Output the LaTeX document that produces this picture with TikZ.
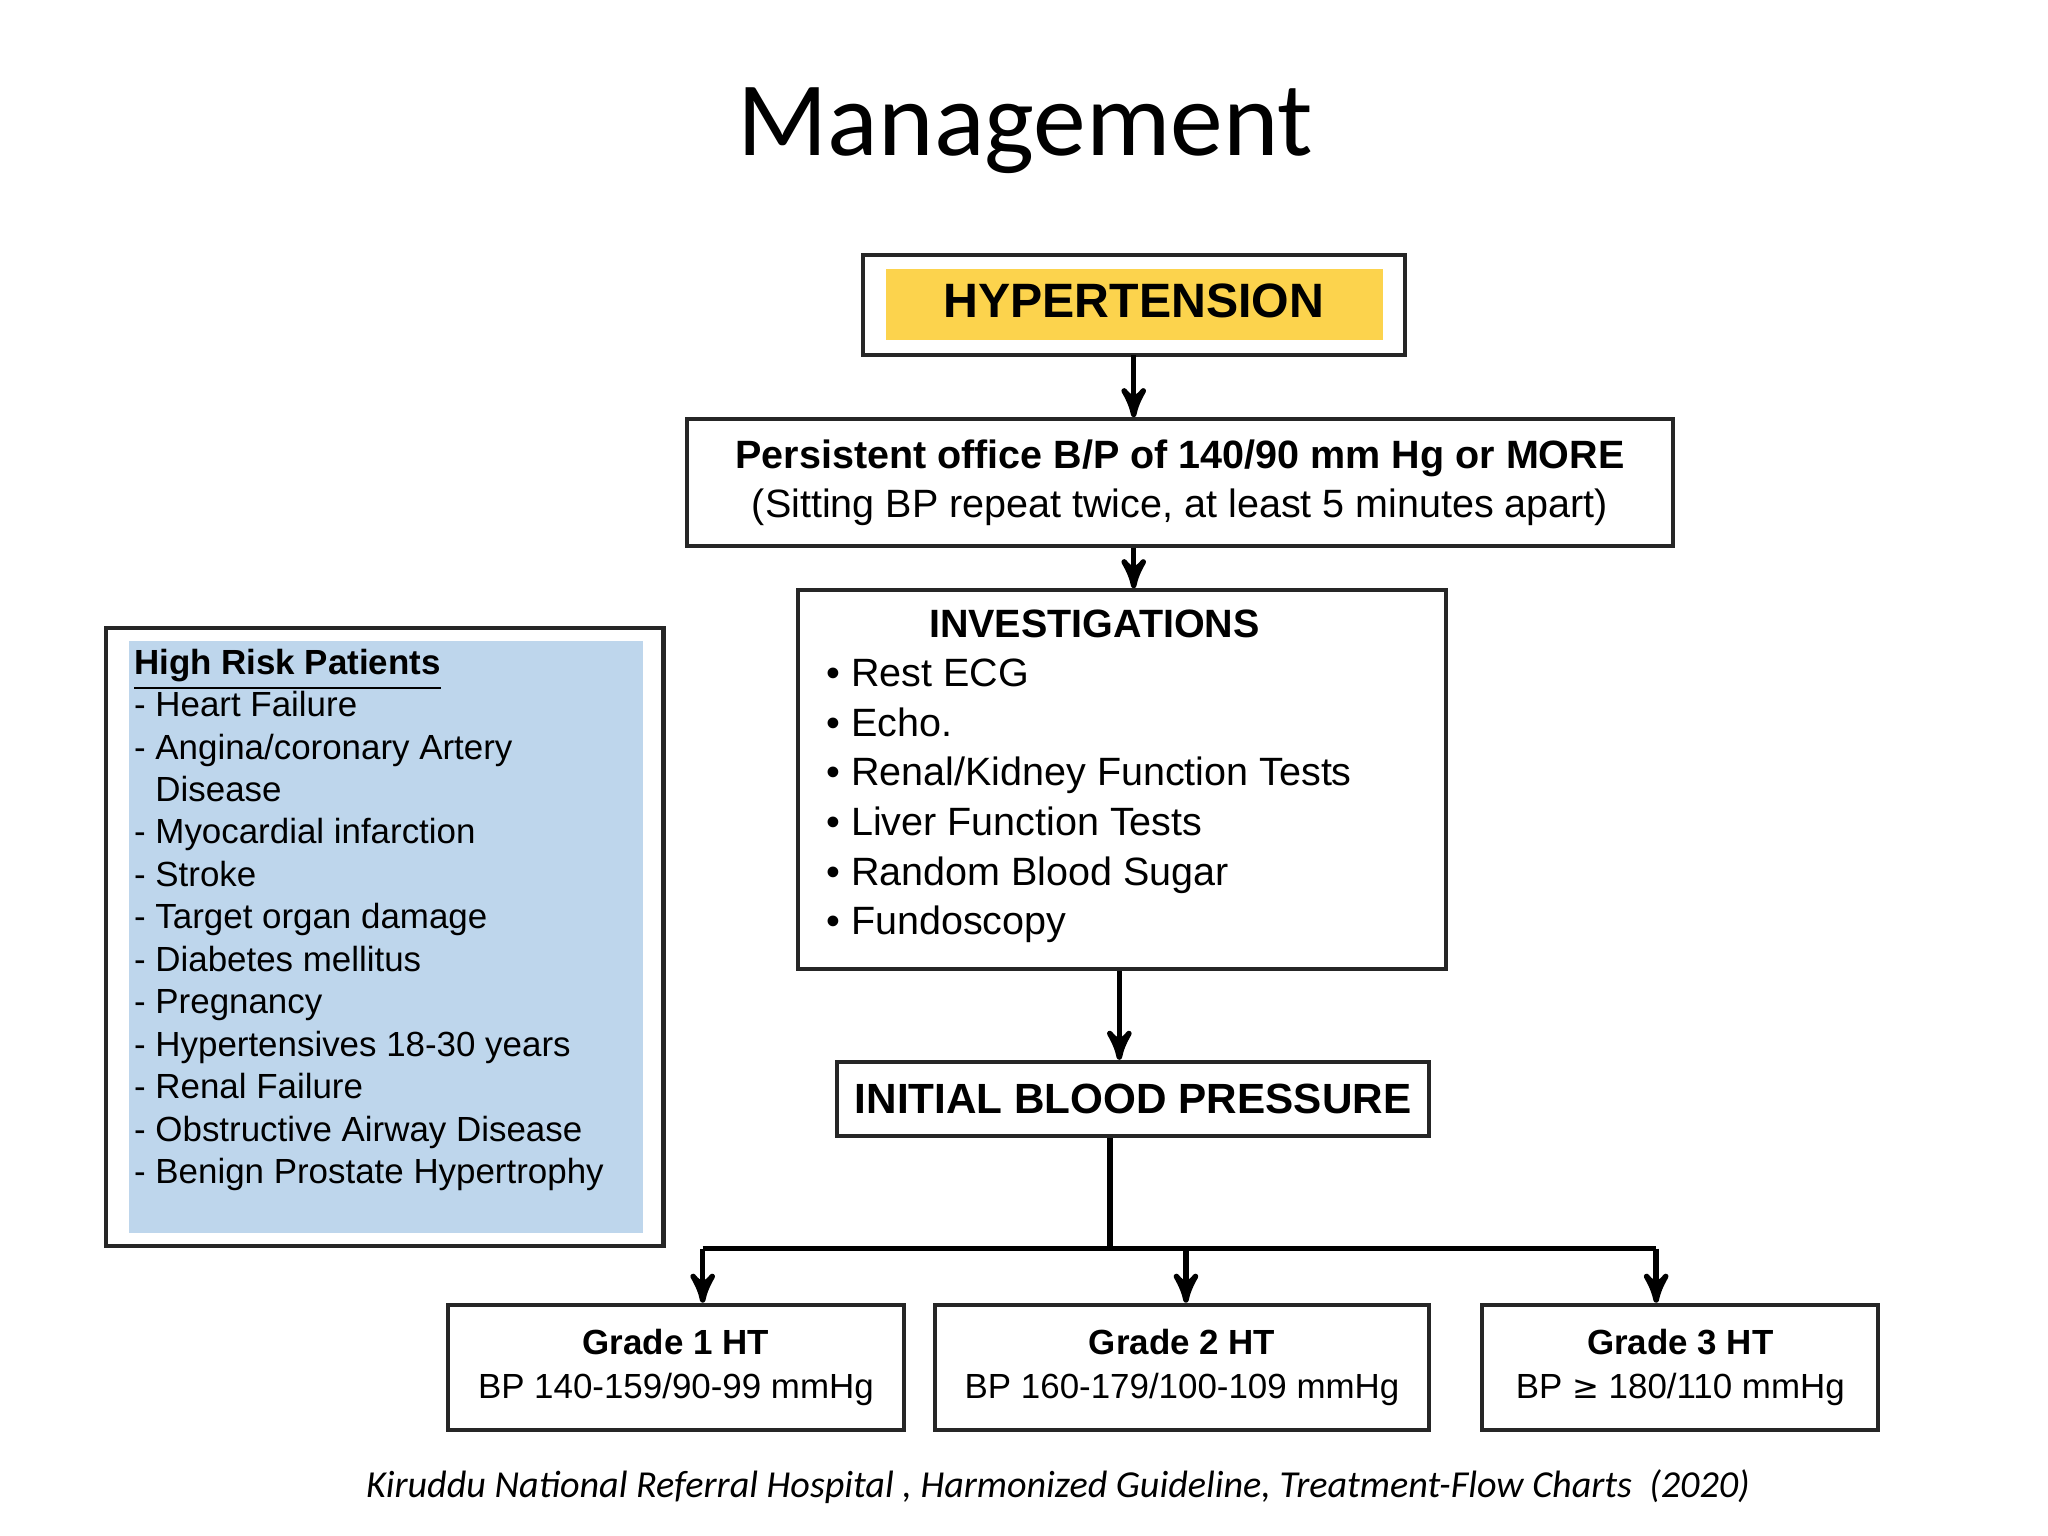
\documentclass[tikz,border=0pt]{standalone}
\usepackage{fontspec}
\setmainfont{Liberation Sans}
\newfontfamily\titlefont{Carlito}
\newfontfamily\symfont{DejaVu Sans}
\usetikzlibrary{arrows,positioning}
\definecolor{hiyellow}{RGB}{252,211,77}
\definecolor{riskblue}{RGB}{190,214,236}
\tikzset{
  box/.style={draw=black!85,line width=0.9pt,inner sep=0pt},
  flow/.style={->,>=stealth',line width=1.2pt},
}
\begin{document}
\begin{tikzpicture}[x=0.01cm,y=-0.01cm]
\useasboundingbox (0,0) rectangle (1568,1176);
\node (title) at (785,100) {\titlefont\fontsize{23}{27}\selectfont Management};
% boxes
\draw[box] (661,195) rectangle (1076,272);
\fill[hiyellow] (678,206) rectangle (1059,260);
\node (hyp) at (868,230) {\bfseries\fontsize{10.5}{12}\selectfont HYPERTENSION};
\coordinate (hypb) at (868,272);
\node[box,minimum width=7.55cm,minimum height=0.97cm,align=center,
      font=\fontsize{8.6}{10.8}\selectfont] (office) at (903.5,369.5)
  {\bfseries Persistent office B/P of 140/90 mm Hg or MORE\\
   (Sitting BP repeat twice, at least 5 minutes apart)};
\node[box,minimum width=4.96cm,minimum height=2.9cm] (invest) at (859,597) {};
\node[anchor=north west,align=left,inner sep=0pt,
      font=\fontsize{8.6}{10.8}\selectfont] (invlist) at (632,466)
  {\hspace*{2.6em}\bfseries INVESTIGATIONS\\
   \textbullet\ Rest ECG\\ \textbullet\ Echo.\\ \textbullet\ Renal/Kidney Function Tests\\
   \textbullet\ Liver Function Tests\\ \textbullet\ Random Blood Sugar\\ \textbullet\ Fundoscopy};
\node[box,minimum width=4.53cm,minimum height=0.57cm] (init) at (867.5,841.5)
  {\bfseries\fontsize{9.2}{11}\selectfont INITIAL BLOOD PRESSURE};
% high risk
\draw[box] (81,481) rectangle (508,954);
\fill[riskblue] (99,491) rectangle (492,944);
\node[anchor=north west,align=left,inner sep=0pt,
      font=\fontsize{7.6}{9.25}\selectfont] (risk) at (102,496)
  {\bfseries\underline{High Risk Patients}\\
   - Heart Failure\\ - Angina/coronary Artery\\ \phantom{- }Disease\\ - Myocardial infarction\\
   - Stroke\\ - Target organ damage\\ - Diabetes mellitus\\ - Pregnancy\\
   - Hypertensives 18-30 years\\ - Renal Failure\\ - Obstructive Airway Disease\\
   - Benign Prostate Hypertrophy};
% grades
\node[box,minimum width=3.49cm,minimum height=0.96cm,align=center,
      font=\fontsize{7.6}{9.4}\selectfont] (g1) at (517.5,1047)
  {\bfseries Grade 1 HT\\ BP 140-159/90-99 mmHg};
\node[box,minimum width=3.78cm,minimum height=0.96cm,align=center,
      font=\fontsize{7.6}{9.4}\selectfont] (g2) at (905,1047)
  {\bfseries Grade 2 HT\\ BP 160-179/100-109 mmHg};
\node[box,minimum width=3.03cm,minimum height=0.96cm,align=center,
      font=\fontsize{7.6}{9.4}\selectfont] (g3) at (1286.5,1047)
  {\bfseries Grade 3 HT\\ BP {\symfont\fontsize{7}{9}\selectfont ≥} 180/110 mmHg};
% arrows
\coordinate (j) at (850,956);
\coordinate (jl) at (538,956);
\coordinate (jr) at (1268,956);
\coordinate (jm) at (908,956);
\coordinate (c1) at (868,0);
\coordinate (c2) at (857,0);
\draw[flow] (hypb) -- (c1 |- office.north);
\draw[flow] (c1 |- office.south) -- (c1 |- invest.north);
\draw[flow] (c2 |- invest.south) -- (c2 |- init.north);
\draw[line width=1.2pt] (init.south -| j) -- (j);
\draw[line width=1.2pt] (jl) -- (jr);
\draw[flow] (jl) -- (jl |- g1.north);
\draw[flow] (jm) -- (jm |- g2.north);
\draw[flow] (jr) -- (jr |- g3.north);
\node (src) at (810,1138) {\titlefont\itshape\fontsize{8.3}{10}\selectfont Kiruddu National Referral Hospital , Harmonized Guideline, Treatment-Flow Charts~ (2020)};
\end{tikzpicture}
\end{document}
